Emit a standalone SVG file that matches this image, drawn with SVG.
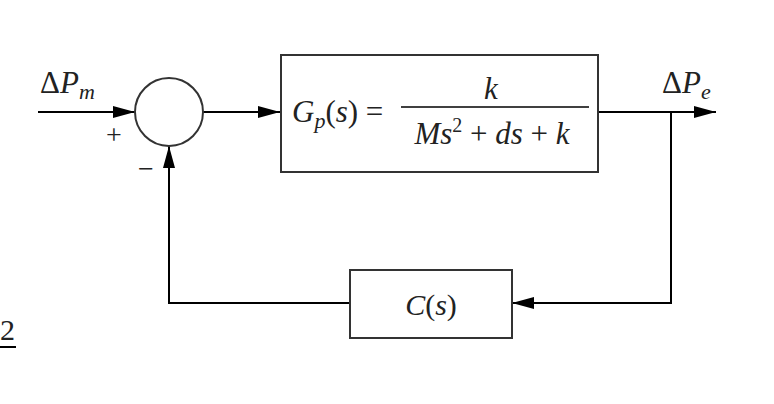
<svg xmlns="http://www.w3.org/2000/svg" width="774" height="404" viewBox="0 0 774 404">
<style>
.l{stroke:#000;stroke-width:2;fill:none}
.b{stroke:#333;stroke-width:2;fill:#fff}
text{font-family:"Liberation Serif",serif;fill:#222}
.i{font-style:italic}
</style>
<defs><marker id="a" markerWidth="22" markerHeight="12" refX="22" refY="6" orient="auto" markerUnits="userSpaceOnUse"><path d="M0,0L22,6L0,12z" fill="#000"/></marker></defs>
<rect width="774" height="404" fill="#fff"/>
<g id="connectors">
<path class="l" d="M38,112H135" marker-end="url(#a)"/>
<path class="l" d="M203,112H280" marker-end="url(#a)"/>
<path class="l" d="M598,112H716" marker-end="url(#a)"/>
<path class="l" d="M671,112V303H512" marker-end="url(#a)"/>
<path class="l" d="M350,303H169V146" marker-end="url(#a)"/>
</g>
<g id="sum"><circle class="b" cx="169" cy="112" r="34"/>
<text x="106" y="144" font-size="28">+</text><text x="138" y="178" font-size="28">−</text></g>
<g id="input"><text x="40" y="93" font-size="31">Δ<tspan class="i">P</tspan><tspan class="i" font-size="22" dy="6">m</tspan></text></g>
<g id="plant"><rect class="b" x="281" y="55" width="317" height="117"/>
<text x="292" y="122" font-size="31" class="i">G<tspan font-size="22" dy="6">p</tspan><tspan dy="-6" font-style="normal">(</tspan>s<tspan font-style="normal">) =</tspan></text>
<text x="491" y="99" font-size="31" class="i" text-anchor="middle">k</text>
<line x1="401" y1="107" x2="589" y2="107" stroke="#000" stroke-width="1.5"/>
<text x="492" y="144" font-size="31" text-anchor="middle"><tspan class="i">Ms</tspan><tspan font-size="20" dy="-12">2</tspan><tspan dy="12"> + </tspan><tspan class="i">ds</tspan> + <tspan class="i">k</tspan></text></g>
<g id="output"><text x="662" y="93" font-size="31">Δ<tspan class="i">P</tspan><tspan class="i" font-size="22" dy="6">e</tspan></text></g>
<g id="controller"><rect class="b" x="350" y="270" width="162" height="68"/>
<text x="431" y="315" font-size="30" text-anchor="middle"><tspan class="i">C</tspan>(<tspan class="i">s</tspan>)</text></g>
<g id="edge"><text x="0" y="340" font-family="Liberation Sans,sans-serif" font-size="30" fill="#000">2</text><line x1="0" y1="347" x2="16" y2="347" stroke="#000" stroke-width="2"/></g>
</svg>
